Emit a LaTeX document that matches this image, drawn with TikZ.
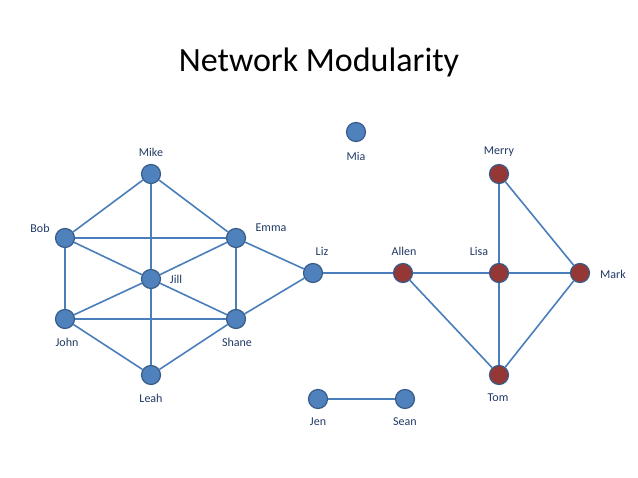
\documentclass[tikz,border=0pt]{standalone}
\usepackage{fontspec}
\setmainfont{Carlito}
\definecolor{nb}{HTML}{4F81BD}
\definecolor{nbd}{HTML}{385D8A}
\definecolor{nr}{HTML}{953735}
\definecolor{ed}{HTML}{4A7EBB}
\definecolor{lb}{HTML}{1F3864}
\begin{document}
\begin{tikzpicture}[x=1pt,y=-1pt,
  v/.style={circle,draw=nbd,line width=1.2pt,fill=nb,minimum size=19pt,inner sep=0pt},
  r/.style={v,fill=nr},
  lab/.style={font=\fontsize{12}{14}\selectfont,text=lb},
  e/.style={draw=ed,line width=1.6pt}]
\useasboundingbox (0,0) rectangle (638,478);
\node[font=\fontsize{34}{40}\selectfont] (title) at (319,62) {Network Modularity};
\node[v] (mike) at (151,174) {}; \node[v] (bob) at (65,238) {}; \node[v] (emma) at (236,238) {};
\node[v] (jill) at (151,279) {}; \node[v] (john) at (65,319) {}; \node[v] (shane) at (236,319) {};
\node[v] (leah) at (151,375) {}; \node[v] (liz) at (313,273) {}; \node[r] (allen) at (403,273) {};
\node[r] (lisa) at (499,273) {}; \node[r] (mark) at (580,273) {}; \node[r] (merry) at (499,174) {};
\node[r] (tom) at (499,375) {}; \node[v] (mia) at (356,132) {}; \node[v] (jen) at (318,399) {};
\node[v] (sean) at (405,399) {};
\begin{scope}[on background layer/.style={}]
\end{scope}
\path[e] (mike)--(bob) (mike)--(emma) (mike)--(jill) (jill)--(leah) (bob)--(emma) (bob)--(jill)
 (jill)--(shane) (emma)--(jill) (jill)--(john) (bob)--(john) (emma)--(shane) (john)--(shane)
 (john)--(leah) (shane)--(leah) (emma)--(liz) (shane)--(liz) (liz)--(allen) (allen)--(lisa)
 (lisa)--(mark) (allen)--(tom) (merry)--(lisa) (lisa)--(tom) (merry)--(mark) (tom)--(mark) (jen)--(sean);
\node[lab] (lmike) at (151,152) {Mike}; \node[lab] (lbob) at (40,228) {Bob};
\node[lab] (lemma) at (271,228) {Emma}; \node[lab] (ljill) at (176,279) {Jill};
\node[lab] (ljohn) at (67,342) {John}; \node[lab] (lshane) at (237,342) {Shane};
\node[lab] (lleah) at (151,398) {Leah}; \node[lab] (lliz) at (322,251) {Liz};
\node[lab] (lallen) at (404,251) {Allen}; \node[lab] (llisa) at (479,251) {Lisa};
\node[lab] (lmark) at (613,274) {Mark}; \node[lab] (lmerry) at (499,152) {Merry};
\node[lab] (ltom) at (498,398) {Tom}; \node[lab] (lmia) at (356,156) {Mia};
\node[lab] (ljen) at (318,422) {Jen}; \node[lab] (lsean) at (405,422) {Sean};
\end{tikzpicture}
\end{document}
